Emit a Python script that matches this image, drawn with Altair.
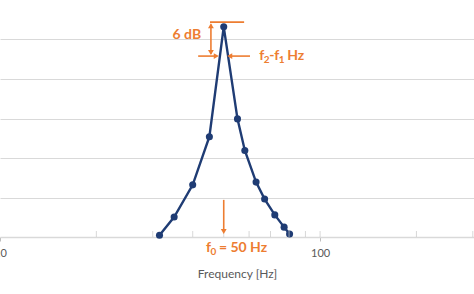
import altair as alt
import pandas as pd

freq = [31.5, 35.0, 40.0, 45.1, 50.0, 55.2, 58.2, 63.1, 67.1, 72.2, 77.2, 80.3]
level = [0.43, 5.06, 13.2, 25.4, 53.2, 29.9, 21.9, 13.9, 9.6, 5.6, 2.5, 0.76]
minor_ticks = [20, 30, 40, 50, 60, 70, 80, 90, 100, 200, 300]
major_ticks = [10, 100]
grid_levels = [10, 20, 30, 40, 50]

NAVY = "#1f3c74"
ORANGE = "#ED7D31"
GREY = "#595959"
FONT = "Lato"

df = pd.DataFrame({"freq": freq, "level": level})
ticks_df = pd.DataFrame({"freq": minor_ticks})

xscale = alt.Scale(type="log", domain=[10, 302.6], nice=False)
yscale = alt.Scale(domain=[0, 60], nice=False)

x_axis = alt.Axis(values=major_ticks, format="d", grid=False, labelFlush=False,
                  labelColor=GREY, labelFontSize=11, labelFont=FONT, labelPadding=6,
                  tickSize=4, tickColor="#bfbfbf", domainColor="#d9d9d9", domainWidth=1.5,
                  title="Frequency [Hz]", titleFont=FONT, titleFontSize=12,
                  titleFontWeight="normal", titleColor=GREY, titlePadding=10)
y_axis = alt.Axis(values=grid_levels, labels=False, ticks=False, domain=False,
                  grid=True, gridColor="#d9d9d9", gridWidth=1, title=None)

line = alt.Chart(df).mark_line(color=NAVY, strokeWidth=2.4).encode(
    x=alt.X("freq:Q", scale=xscale, axis=x_axis),
    y=alt.Y("level:Q", scale=yscale, axis=y_axis),
)
pts = alt.Chart(df).mark_point(color=NAVY, filled=True, size=50, opacity=1).encode(
    x="freq:Q", y="level:Q"
)
minor = alt.Chart(ticks_df).mark_tick(color="#c8c8c8", thickness=1, size=6).encode(
    x="freq:Q", y=alt.value(234)
)

one = alt.Data(values=[{}])


def seg(f1, v1, f2, v2):
    return alt.Chart(one).mark_rule(color=ORANGE, strokeWidth=1.6).encode(
        x=alt.datum(f1), y=alt.datum(v1), x2=alt.datum(f2), y2=alt.datum(v2))


def head(f, v, shape):
    return alt.Chart(one).mark_point(color=ORANGE, filled=True, opacity=1, size=34,
                                     shape=shape).encode(x=alt.datum(f), y=alt.datum(v))


def txt(s, f, v, size=14, dx=0, dy=0, align="left", weight="bold"):
    return alt.Chart(one).mark_text(text=s, color=ORANGE, font=FONT, fontSize=size,
                                    fontWeight=weight, align=align, baseline="middle",
                                    dx=dx, dy=dy).encode(x=alt.datum(f), y=alt.datum(v))


ann = [
    seg(45.3, 54.4, 57.9, 54.4),            # top reference line
    seg(45.6, 53.8, 45.6, 46.4),            # 6 dB double arrow
    head(45.6, 53.5, "triangle-up"),
    head(45.6, 46.7, "triangle-down"),
    seg(41.6, 45.8, 47.3, 45.8),            # left arrow
    head(47.4, 45.8, "triangle-right"),
    seg(60.4, 45.8, 52.3, 45.8),            # right arrow
    head(52.2, 45.8, "triangle-left"),
    seg(50.0, 9.4, 50.0, 1.6),              # f0 arrow
    head(50.0, 1.4, "triangle-down"),
    txt("6 dB", 42.5, 51.1, align="right"),
    txt("f", 64.5, 45.8),
    txt("2", 64.5, 45.8, size=10, dx=4.5, dy=4),
    txt("-f", 64.5, 45.8, dx=10),
    txt("1", 64.5, 45.8, size=10, dx=19.5, dy=4),
    txt("Hz", 64.5, 45.8, dx=28),
    txt("f", 44.0, -2.8),
    txt("0", 44.0, -2.8, size=10, dx=4.5, dy=4),
    txt("= 50 Hz", 44.0, -2.8, dx=13),
]

chart = alt.layer(line, pts, minor, *ann).properties(
    width=474, height=237,
    autosize=alt.AutoSizeParams(type="none"),
    padding={"left": 0, "top": 0, "right": 0, "bottom": 57},
).configure_view(stroke=None)

chart.save("out.html", embed_options={"renderer": "svg", "actions": False})
